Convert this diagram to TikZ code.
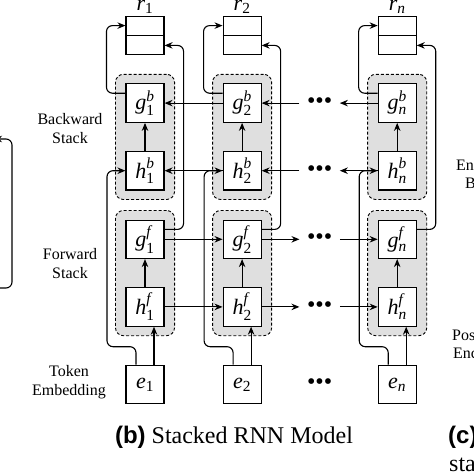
\documentclass[tikz,border=0pt]{standalone}
\usepackage{amsmath}
\usepackage{fontspec}
\setmainfont{Liberation Serif}
\newfontfamily\capsans{Liberation Sans}
\usetikzlibrary{arrows.meta,positioning,fit,backgrounds,calc}
\newcommand{\cellsub}[2]{$\textit{#1}_{\text{#2}}$}
\newcommand{\cellsupsub}[3]{$\textit{#1}^{\textit{#2}}_{\text{#3}}$}

\begin{document}
\begin{tikzpicture}[x=1pt,y=-1pt,>=Stealth,node distance=28pt,
  cell/.style={draw,fill=white,line width=1.1pt,minimum width=38pt,minimum height=38.5pt,inner sep=0pt,font=\fontsize{22}{24}\selectfont},
  grp/.style={draw,dash pattern=on 3pt off 2pt,fill=gray!25,rounded corners=8pt,inner xsep=10pt,inner ysep=9pt,line width=0.9pt},
  arr/.style={-{Stealth[length=8pt,width=6.5pt]},line width=1.1pt},
  route/.style={arr,rounded corners=6pt},
  dotsbox/.style={minimum width=40pt,inner sep=0pt,font=\fontsize{24}{24}\selectfont},
  side/.style={align=center,font=\fontsize{16}{19}\selectfont},
  capt/.style={font=\fontsize{24}{28}\selectfont,inner sep=0pt}]
  \useasboundingbox (0,0) rectangle (474,474);

  % column 1
  \node[cell] (e1) at (145,384.5) {\cellsub{e}{1}};
  \node[cell,above=38pt of e1] (h1f) {\cellsupsub{h}{f}{1}};
  \node[cell,above=of h1f] (g1f) {\cellsupsub{g}{f}{1}};
  \node[cell,above=29pt of g1f] (h1b) {\cellsupsub{h}{b}{1}};
  \node[cell,above=of h1b] (g1b) {\cellsupsub{g}{b}{1}};
  \node[cell,above=of g1b] (r1) {};
  % column 2
  \node[cell,right=58pt of e1] (e2) {\cellsub{e}{2}};
  \node[cell,right=58pt of h1f] (h2f) {\cellsupsub{h}{f}{2}};
  \node[cell,right=58pt of g1f] (g2f) {\cellsupsub{g}{f}{2}};
  \node[cell,right=58pt of h1b] (h2b) {\cellsupsub{h}{b}{2}};
  \node[cell,right=58pt of g1b] (g2b) {\cellsupsub{g}{b}{2}};
  \node[cell,right=58pt of r1] (r2) {};
  % column n
  \node[cell,right=116pt of e2] (en) {\cellsub{e}{\textit{n}}};
  \node[cell,right=116pt of h2f] (hnf) {\cellsupsub{h}{f}{\textit{n}}};
  \node[cell,right=116pt of g2f] (gnf) {\cellsupsub{g}{f}{\textit{n}}};
  \node[cell,right=116pt of h2b] (hnb) {\cellsupsub{h}{b}{\textit{n}}};
  \node[cell,right=116pt of g2b] (gnb) {\cellsupsub{g}{b}{\textit{n}}};
  \node[cell,right=116pt of r2] (rn) {};

  % output labels
  \node[font=\fontsize{22}{24}\selectfont,anchor=base] (lr1) at ($(r1.north)+(0,-5)$) {\cellsub{r}{1}};
  \node[font=\fontsize{22}{24}\selectfont,anchor=base] (lr2) at ($(r2.north)+(0,-5)$) {\cellsub{r}{2}};
  \node[font=\fontsize{22}{24}\selectfont,anchor=base] (lrn) at ($(rn.north)+(0,-5)$) {\cellsub{r}{\textit{n}}};
  \draw[line width=1.1pt] (r1.west) -- (r1.east);
  \draw[line width=1.1pt] (r2.west) -- (r2.east);
  \draw[line width=1.1pt] (rn.west) -- (rn.east);

  % ellipses
  \node[dotsbox] (dgb) at ($(g2b)!0.5!(gnb)$) {•••};
  \node[dotsbox] (dhb) at ($(h2b)!0.5!(hnb)$) {•••};
  \node[dotsbox] (dgf) at ($(g2f)!0.5!(gnf)$) {•••};
  \node[dotsbox] (dhf) at ($(h2f)!0.5!(hnf)$) {•••};
  \node[dotsbox] (de) at ($(e2)!0.5!(en)$) {•••};

  % stacks
  \begin{scope}[on background layer]
    \node[grp,fit=(g1b)(h1b)] (bs1) {};
    \node[grp,fit=(g2b)(h2b)] (bs2) {};
    \node[grp,fit=(gnb)(hnb)] (bsn) {};
    \node[grp,fit=(g1f)(h1f)] (fs1) {};
    \node[grp,fit=(g2f)(h2f)] (fs2) {};
    \node[grp,fit=(gnf)(hnf)] (fsn) {};
  \end{scope}

  % side labels
  \node[side] (lbw) at (70,129) {Backward\\Stack};
  \node[side] (lfw) at (70,264) {Forward\\Stack};
  \node[side] (ltk) at (69,382) {Token\\Embedding};

  % vertical arrows
  \draw[arr] (h1b) -- (g1b);
  \draw[arr] (h2b) -- (g2b);
  \draw[arr] (hnb) -- (gnb);
  \draw[arr] (h1f) -- (g1f);
  \draw[arr] (h2f) -- (g2f);
  \draw[arr] (hnf) -- (gnf);
  \draw[arr] ($(e1.north)+(9,0)$) -- ($(h1f.south)+(9,0)$);
  \draw[arr] ($(e2.north)+(9,0)$) -- ($(h2f.south)+(9,0)$);
  \draw[arr] ($(en.north)+(9,0)$) -- ($(hnf.south)+(9,0)$);

  % backward direction
  \draw[arr] (g2b) -- (g1b);
  \draw[arr] (gnb) -- (dgb);
  \draw[arr] (dgb) -- (g2b);
  \draw[arr] (h2b) -- (h1b);
  \draw[arr] (hnb) -- (dhb);
  \draw[arr] (dhb) -- (h2b);
  % forward direction
  \draw[arr] (g1f) -- (g2f);
  \draw[arr] (g2f) -- (dgf);
  \draw[arr] (dgf) -- (gnf);
  \draw[arr] (h1f) -- (h2f);
  \draw[arr] (h2f) -- (dhf);
  \draw[arr] (dhf) -- (hnf);

  % embedding to backward stack
  \draw[route] ($(e1.north)+(-9,0)$) -- ++(0,-18) -- ++(-29,0) |- (h1b.west);
  \draw[route] ($(e2.north)+(-9,0)$) -- ++(0,-18) -- ++(-29,0) |- (h2b.west);
  \draw[route] ($(en.north)+(-9,0)$) -- ++(0,-18) -- ++(-29,0) |- (hnb.west);
  % stacks to outputs
  \draw[route] ($(g1b.north west)!0.25!(g1b.south west)$) -- ++(-19,0) |- ($(r1.north west)!0.5!(r1.west)$);
  \draw[route] ($(g2b.north west)!0.25!(g2b.south west)$) -- ++(-19,0) |- ($(r2.north west)!0.5!(r2.west)$);
  \draw[route] ($(gnb.north west)!0.25!(gnb.south west)$) -- ++(-19,0) |- ($(rn.north west)!0.5!(rn.west)$);
  \draw[route] ($(g1f.north east)!0.25!(g1f.south east)$) -- ++(19,0) |- ($(r1.east)!0.5!(r1.south east)$);
  \draw[route] ($(g2f.north east)!0.25!(g2f.south east)$) -- ++(19,0) |- ($(r2.east)!0.5!(r2.south east)$);
  \draw[route] ($(gnf.north east)!0.25!(gnf.south east)$) -- ++(19,0) |- ($(rn.east)!0.5!(rn.south east)$);

  % neighbouring panels
  \coordinate (pa1) at (-6,139);
  \coordinate (pa2) at (-6,288);
  \draw[route] (pa2) -- ++(18,0) |- (pa1);
  \node[side,anchor=west,inner sep=0pt] (rc1) at (456,165) {En};
  \node[side,anchor=west,inner sep=0pt] (rc2) at (465,183) {B};
  \node[side,anchor=west,inner sep=0pt] (rc3) at (452,335) {Pos};
  \node[side,anchor=west,inner sep=0pt] (rc4) at (453,353) {Enc};

  % captions
  \node[capt,anchor=base] (capb) at (234,443) {{\capsans\bfseries (b)} Stacked RNN Model};
  \node[capt,anchor=base west] (capc) at (448,443) {\capsans\bfseries (c)};
  \node[capt,anchor=base west] (capc2) at (449,471) {sta};
\end{tikzpicture}
\end{document}
